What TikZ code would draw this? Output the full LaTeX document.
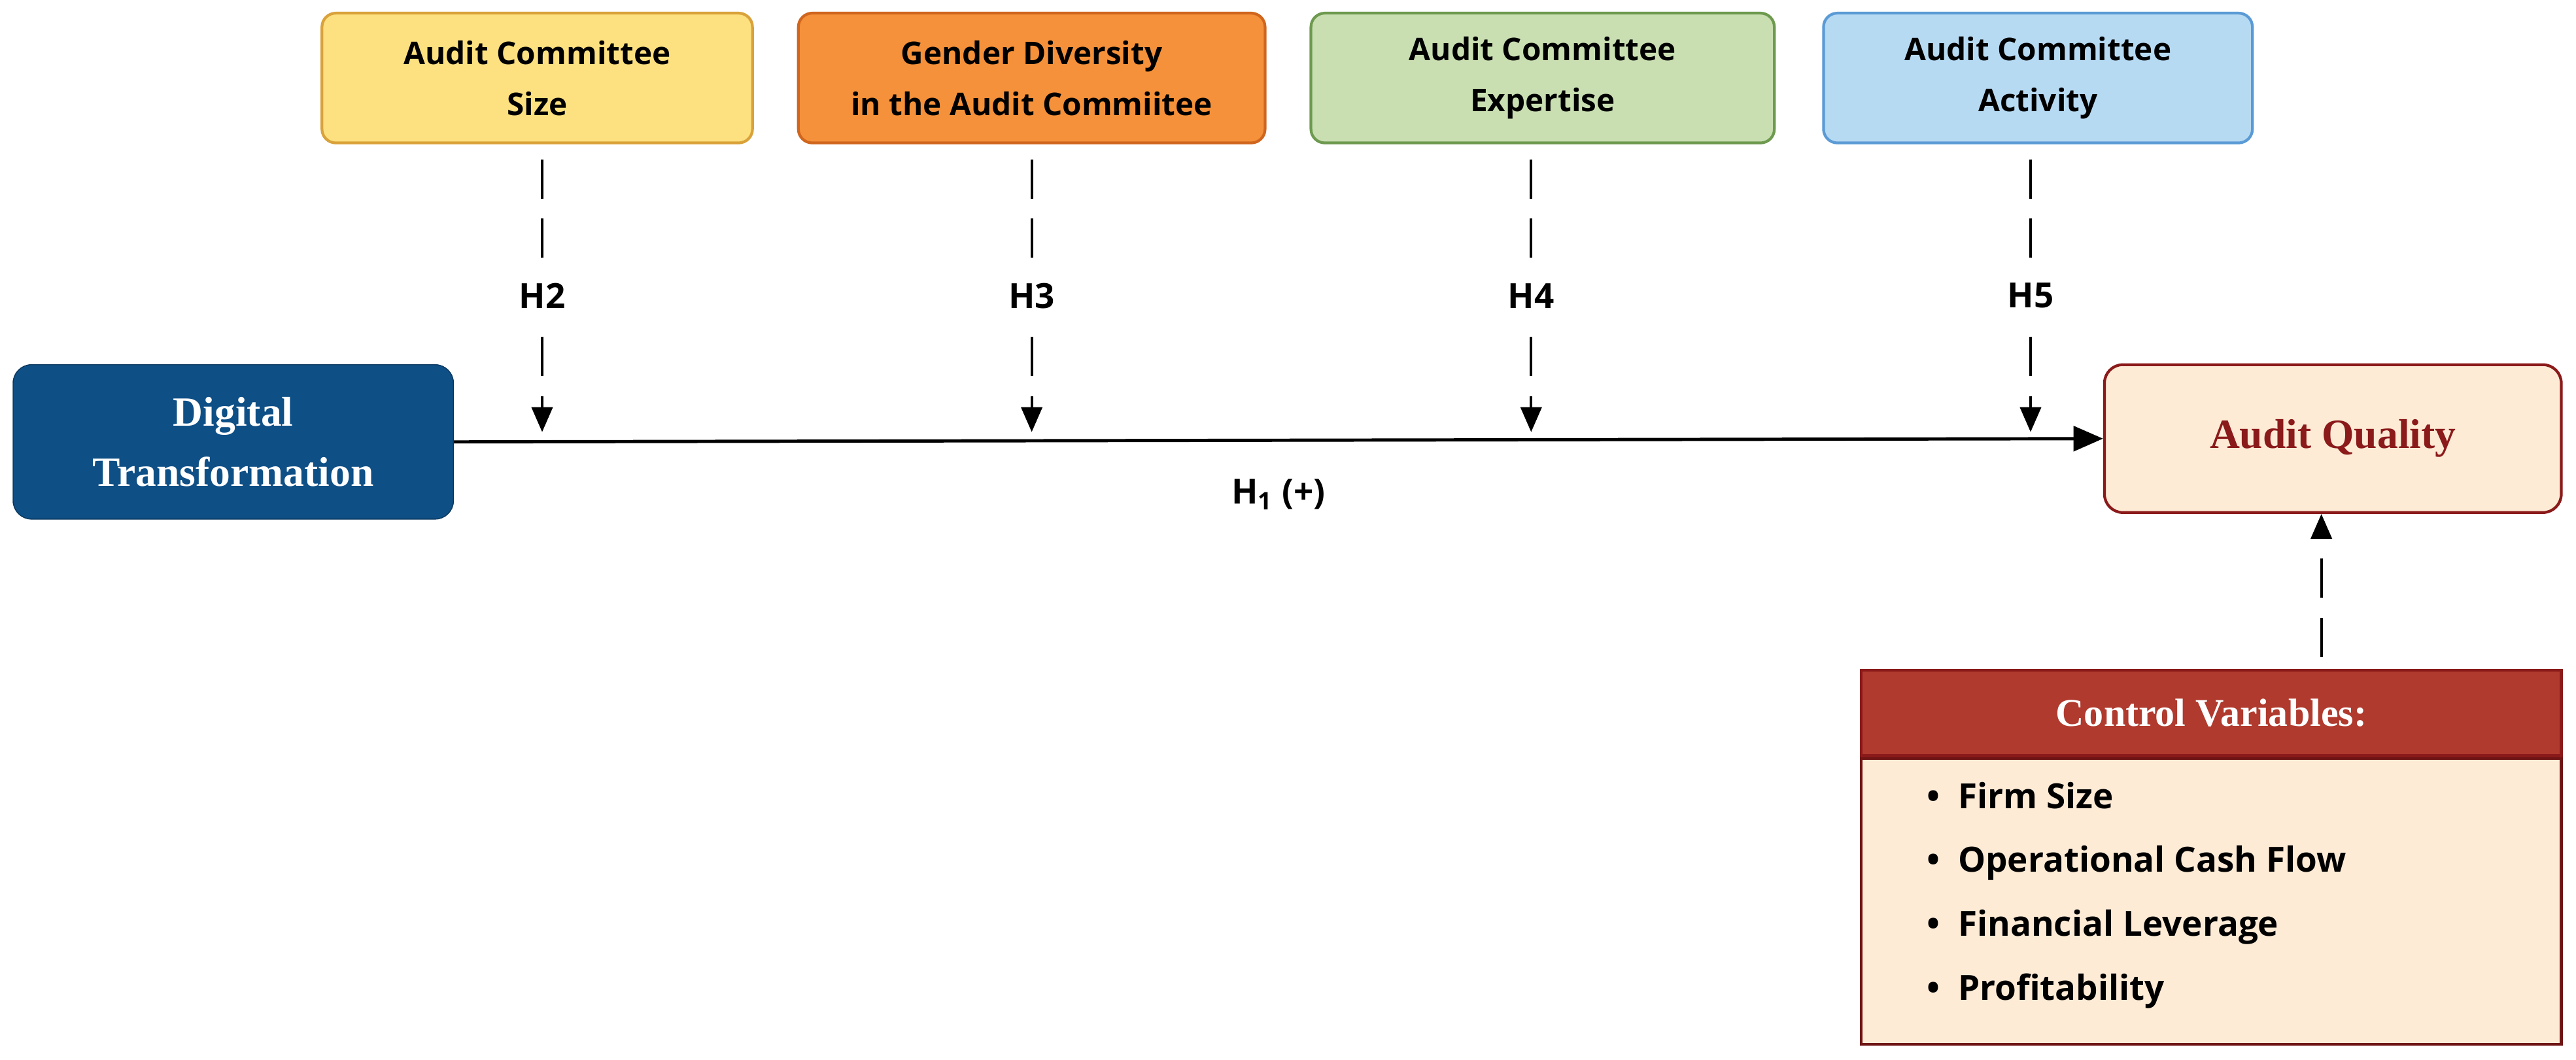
\documentclass[tikz,border=0pt]{standalone}
\usepackage{fontspec}
\setmainfont{Open Sans}
\newfontfamily\titlefont{Liberation Serif}
\usetikzlibrary{arrows.meta}

\definecolor{sizefill}{HTML}{FDE07F}
\definecolor{sizeline}{HTML}{D9A23A}
\definecolor{genderfill}{HTML}{F5913A}
\definecolor{genderline}{HTML}{D0661E}
\definecolor{expfill}{HTML}{C9DFB2}
\definecolor{expline}{HTML}{6E9A50}
\definecolor{actfill}{HTML}{B7DAF3}
\definecolor{actline}{HTML}{5B9BD5}
\definecolor{dtblue}{HTML}{0E4F86}
\definecolor{cream}{HTML}{FDEBD6}
\definecolor{aqred}{HTML}{8B1A1A}
\definecolor{headred}{HTML}{B03A2E}

\tikzset{
    factor/.style={draw, line width=1.2pt, rounded corners=6pt, minimum height=1.975cm,
        align=center, font=\fontsize{13.5}{22}\selectfont\bfseries},
    hyparrow/.style={dashed, dash pattern=on 0.6cm off 0.3cm, line width=1.2pt, -{Triangle[length=0.38cm,width=0.32cm]}},
    hlabel/.style={fill=white, font=\fontsize{15}{18}\selectfont\bfseries, inner sep=6pt},
}

\begin{document}
\begin{tikzpicture}[x=0.025cm, y=-0.025cm]
        \useasboundingbox (0,0) rectangle (1568,645);

        %% moderateurs
        \node [factor, fill=sizefill, draw=sizeline, minimum width=6.55cm] (size) at (327,47.5) {Audit Committee\\Size};
        \node [factor, fill=genderfill, draw=genderline, minimum width=7.1cm] (gender) at (628,47.5) {Gender Diversity\\in the Audit Commiitee};
        \node [factor, fill=expfill, draw=expline, minimum width=7.05cm] (expertise) at (939,47.5) {Audit Committee\\Expertise};
        \node [factor, fill=actfill, draw=actline, minimum width=6.525cm] (activity) at (1240.5,47.5) {Audit Committee\\Activity};

        %% variables principales
        \node [draw=dtblue!70!black, fill=dtblue, rounded corners=8pt, minimum width=6.7cm, minimum height=2.35cm,
            align=center, text=white, font=\titlefont\fontsize{18}{26}\selectfont\bfseries] (dt) at (142,269) {Digital\\Transformation};
        \node [draw=aqred, fill=cream, line width=1.2pt, rounded corners=8pt, minimum width=6.95cm, minimum height=2.25cm,
            text=aqred, font=\titlefont\fontsize{18}{22}\selectfont\bfseries] (aq) at (1420,267) {Audit Quality};

        \draw [line width=1.4pt, -{Triangle[length=0.45cm,width=0.38cm]}] (dt.east) -- (aq.west) node [pos=0.5, below=0.45cm, font=\fontsize{15}{18}\selectfont\bfseries] (h1) {H\textsubscript{1} (+)};

        %% fleches pointillees
        \coordinate (m2) at (330,263);
        \coordinate (m3) at (628,263);
        \coordinate (m4) at (932,263);
        \coordinate (m5) at (1236,263);
        \draw [hyparrow] (330,97) -- node [hlabel] {H2} (m2);
        \draw [hyparrow] (628,97) -- node [hlabel] {H3} (m3);
        \draw [hyparrow] (932,97) -- node [hlabel] {H4} (m4);
        \draw [hyparrow] (1236,97) -- node [hlabel] {H5} (m5);

        %% variables de controle
        \node [draw=aqred, fill=headred, line width=1.2pt, minimum width=10.65cm, minimum height=1.3cm,
            text=white, font=\titlefont\fontsize{17}{20}\selectfont\bfseries] (cvhead) at (1346,434) {Control Variables:};
        \node [draw=aqred!80!black, fill=cream, line width=1.2pt, minimum width=10.65cm, minimum height=4.35cm,
            anchor=north] (cvbody) at (cvhead.south) {};
        \node [anchor=west, align=left, font=\fontsize{15}{27.7}\selectfont\bfseries] (cvlist) at (1168,545)
            {\textbullet\ \ Firm Size\\\textbullet\ \ Operational Cash Flow\\\textbullet\ \ Financial Leverage\\\textbullet\ \ Profitability};

        \coordinate (cvtop) at (1413,400);
        \draw [hyparrow] (cvtop) -- (cvtop |- aq.south);

    \end{tikzpicture}
\end{document}
